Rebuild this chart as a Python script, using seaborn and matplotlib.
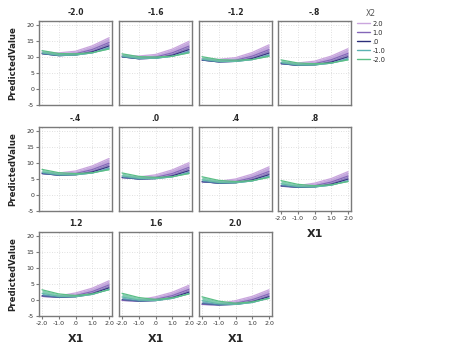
import matplotlib
matplotlib.use("Agg")
import matplotlib.pyplot as plt
from matplotlib.lines import Line2D
import numpy as np
import pandas as pd
import seaborn as sns

# ---------------- data ----------------
x1 = [-2.0, -1.0, 0.0, 1.0, 2.0]
panel_labels = ["-2.0", "-1.6", "-1.2", "-.8", "-.4", ".0", ".4", ".8", "1.2", "1.6", "2.0"]
x2_labels = ["2.0", "1.0", ".0", "-1.0", "-2.0"]

# predicted values per panel, at x1 = -2, -1, 0, 1, 2
y_x2_p2 = [
    [11.6, 11.29, 11.8, 13.5, 16.0],
    [10.6, 10.31, 10.8, 12.46, 14.9],
    [9.5, 9.28, 9.8, 11.43, 13.8],
    [8.3, 8.13, 8.7, 10.29, 12.6],
    [7.0, 6.88, 7.5, 9.09, 11.4],
    [5.7, 5.64, 6.3, 7.84, 10.1],
    [4.3, 4.28, 5.0, 6.54, 8.8],
    [2.9, 2.94, 3.7, 5.15, 7.3],
    [1.2, 1.3, 2.2, 3.7, 6.0],
    [-0.1, 0.07, 1.0, 2.42, 4.6],
    [-1.4, -1.16, -0.2, 1.15, 3.2],
]
y_x2_p1 = [
    [11.1, 10.64, 11.0, 12.36, 14.53],
    [10.1, 9.66, 10.0, 11.31, 13.4],
    [9.05, 8.65, 9.0, 10.28, 12.3],
    [7.9, 7.53, 7.9, 9.15, 11.13],
    [6.65, 6.31, 6.7, 7.95, 9.93],
    [5.4, 5.09, 5.5, 6.72, 8.65],
    [4.05, 3.76, 4.2, 5.42, 7.38],
    [2.7, 2.44, 2.9, 4.06, 5.93],
    [1.1, 0.85, 1.4, 2.65, 4.7],
    [-0.15, -0.36, 0.2, 1.38, 3.33],
    [-1.4, -1.56, -1.0, 0.11, 1.93],
]
y_x2_0 = [
    [11.0, 10.39, 10.6, 11.62, 13.45],
    [10.0, 9.41, 9.6, 10.56, 12.3],
    [9.0, 8.43, 8.6, 9.53, 11.2],
    [7.9, 7.33, 7.5, 8.41, 10.05],
    [6.7, 6.13, 6.3, 7.21, 8.85],
    [5.5, 4.94, 5.1, 5.99, 7.6],
    [4.2, 3.63, 3.8, 4.71, 6.35],
    [2.9, 2.34, 2.5, 3.37, 4.95],
    [1.4, 0.8, 1.0, 2.0, 3.8],
    [0.2, -0.38, -0.2, 0.74, 2.45],
    [-1.0, -1.56, -1.4, -0.53, 1.05],
]
y_x2_m1 = [
    [11.3, 10.54, 10.6, 11.28, 12.78],
    [10.3, 9.56, 9.6, 10.21, 11.6],
    [9.35, 8.6, 8.6, 9.18, 10.5],
    [8.3, 7.53, 7.5, 8.07, 9.38],
    [7.15, 6.36, 6.3, 6.87, 8.18],
    [6.0, 5.19, 5.1, 5.67, 6.95],
    [4.75, 3.91, 3.8, 4.40, 5.73],
    [3.5, 2.64, 2.5, 3.08, 4.38],
    [2.1, 1.15, 1.0, 1.75, 3.3],
    [0.95, 0.0, -0.2, 0.5, 1.98],
    [-0.2, -1.16, -1.4, -0.77, 0.58],
]
y_x2_m2 = [
    [12.0, 11.09, 11.0, 11.35, 12.5],
    [11.0, 10.11, 10.0, 10.26, 11.3],
    [10.1, 9.18, 9.0, 9.23, 10.2],
    [9.1, 8.13, 7.9, 8.14, 9.1],
    [8.0, 6.98, 6.7, 6.94, 7.9],
    [6.9, 5.84, 5.5, 5.74, 6.7],
    [5.7, 4.58, 4.2, 4.49, 5.5],
    [4.5, 3.34, 2.9, 3.2, 4.2],
    [3.2, 1.9, 1.4, 1.9, 3.2],
    [2.1, 0.77, 0.2, 0.67, 1.9],
    [1.0, -0.36, -1.0, -0.6, 0.5],
]

y_ticks = [-5, 0, 5, 10, 15, 20]
y_tick_labels = ["-5", "0", "5", "10", "15", "20"]
x_ticks = [-2, -1, 0, 1, 2]
x_tick_labels = ["-2.0", "-1.0", ".0", "1.0", "2.0"]

# ---------------- styling ----------------
line_colors = ["#cba6de", "#8466b8", "#2c2f7a", "#5bb2b2", "#5cbf86"]
line_widths = [0.9, 0.8, 0.7, 0.8, 0.9]
fill_colors = ["#b592d4", "#7560ae", "#5590b0", "#66c0a0"]

series = [y_x2_p2, y_x2_p1, y_x2_0, y_x2_m1, y_x2_m2]
rows = []
for lab, ser in zip(x2_labels, series):
    for p, vals in zip(panel_labels, ser):
        for xv, yv in zip(x1, vals):
            rows.append({"panel": p, "X1": xv, "X2": lab, "value": yv})
df = pd.DataFrame(rows)

sns.set_style("white")
plt.rcParams["font.family"] = ["DejaVu Sans"]

W, H = 474, 355
fig = plt.figure(figsize=(W / 100, H / 100), dpi=100)

lefts = [39, 119, 199, 278]
tops = [21, 127, 232]
pw, ph = 73, 84
frame_col = "#7a7a7a"

for i, p in enumerate(panel_labels):
    r, c = divmod(i, 4)
    ax = fig.add_axes([lefts[c] / W, 1 - (tops[r] + ph) / H, pw / W, ph / H])
    sub = df[df["panel"] == p]
    for k, lab in enumerate(x2_labels):
        d = sub[sub["X2"] == lab]
        sns.lineplot(data=d, x="X1", y="value", color=line_colors[k], lw=line_widths[k],
                     ax=ax, legend=False, zorder=3 + 2 * k)
        if k < len(x2_labels) - 1:
            d2 = sub[sub["X2"] == x2_labels[k + 1]]
            ax.fill_between(d["X1"].values, d["value"].values, d2["value"].values,
                            color=fill_colors[k], lw=0, alpha=0.8, zorder=4 + 2 * k)
    ax.set_xlim(-2.18, 2.18)
    ax.set_ylim(-5, 21.25)
    ax.set_xticks(x_ticks)
    ax.set_yticks(y_ticks)
    ax.grid(True, color="#d6d6d6", linestyle=(0, (1, 2)), lw=0.6, zorder=0)
    for s in ax.spines.values():
        s.set_color(frame_col)
        s.set_linewidth(1.0)
    ax.set_title(p, fontsize=5.5, fontweight="bold", pad=4)
    ax.set_xlabel("")
    ax.set_ylabel("")
    bottom_panel = (r == 2) or (r == 1 and c == 3)
    if c == 0:
        ax.set_yticklabels(y_tick_labels, fontsize=4.5, color="#333333")
        ax.tick_params(axis="y", length=2.5, width=0.8, color=frame_col, pad=1, left=True)
        ax.set_ylabel("PredictedValue", fontsize=6.2, fontweight="bold")
        ax.yaxis.set_label_coords(-0.30, 0.5)
    else:
        ax.set_yticklabels([])
        ax.tick_params(axis="y", length=0)
    if bottom_panel:
        ax.set_xticklabels(x_tick_labels, fontsize=4.5, color="#333333")
        ax.tick_params(axis="x", length=2.5, width=0.8, color=frame_col, pad=1, bottom=True)
        ax.set_xlabel("X1", fontsize=8, fontweight="bold")
        ax.xaxis.set_label_coords(0.5, -0.22)
    else:
        ax.set_xticklabels([])
        ax.tick_params(axis="x", length=0)

handles = [Line2D([0], [0], color=col, lw=1.0) for col in line_colors]
leg = fig.legend(handles, x2_labels, title="X2", loc="upper left",
                 bbox_to_anchor=(354 / W, 1 - 6 / H), frameon=False,
                 fontsize=4.8, title_fontsize=5.5, handlelength=2.0,
                 handletextpad=0.4, labelspacing=0.45, borderaxespad=0)
leg.get_title().set_color("#555555")

fig.savefig("out.png", dpi=100, facecolor="white")
